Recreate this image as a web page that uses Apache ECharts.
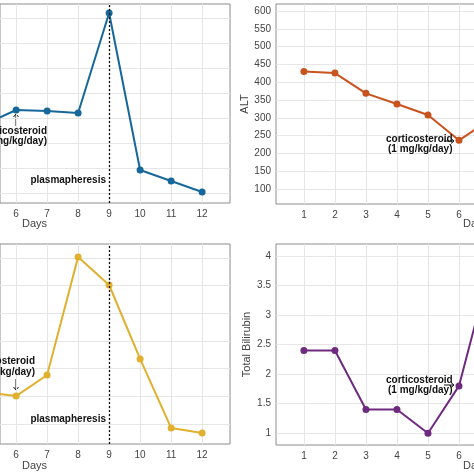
<!DOCTYPE html>
<html>
<head>
<meta charset="utf-8">
<script src="https://cdn.jsdelivr.net/npm/echarts@6/dist/echarts.min.js"></script>
<style>
  html, body { margin: 0; padding: 0; background: #fff; }
  #chart { width: 474px; height: 474px; }
</style>
</head>
<body>
<div id="chart"></div>
<script>
const leftDays = [5, 6, 7, 8, 9, 10, 11, 12];
const rightDays = [1, 2, 3, 4, 5, 6, 7];

// values (left panels: y axis labels are cut off, so unit = one gridline)
const topLeftValues = [2.76, 3.32, 3.28, 3.2, 7.2, 0.92, 0.48, 0.04];
const bottomLeftValues = [1.16, 1.01, 1.77, 6.03, 5.02, 2.35, -0.14, -0.32];
const altValues = [430, 426, 369, 339, 308, 237, 295];
const bilirubinValues = [2.4, 2.4, 1.4, 1.4, 1.0, 1.8, 3.8];

const leftDayTicks = [6, 7, 8, 9, 10, 11, 12];
const rightDayTicks = [1, 2, 3, 4, 5, 6, 7];
const topLeftTicks = [0, 1, 2, 3, 4, 5, 6, 7];
const bottomLeftTicks = [0, 1, 2, 3, 4, 5, 6];
const altTicks = [100, 150, 200, 250, 300, 350, 400, 450, 500, 550, 600];
const bilirubinTicks = [1, 1.5, 2, 2.5, 3, 3.5, 4];

const colors = {
  blue: '#16679a',
  orange: '#c9531f',
  yellow: '#e0b02e',
  purple: '#6e2a7e',
  grid: '#e6e6e6',
  border: '#8c8c8c',
  label: '#444'
};

const font = 'Liberation Sans, Arial, sans-serif';

const chart = echarts.init(document.getElementById('chart'));

const makeGrid = (left, top, width, height) => ({
  left, top, width, height,
  outerBoundsMode: 'none', containLabel: false,
  show: true, borderColor: colors.border, borderWidth: 1
});

const makeX = (gridIndex, min, max, ticks) => ({
  type: 'value', gridIndex, min, max,
  axisLine: { show: false },
  axisTick: { show: false, customValues: ticks },
  axisLabel: { customValues: ticks, color: colors.label, fontSize: 10, fontFamily: font, margin: 6 },
  splitLine: { show: true, lineStyle: { color: colors.grid } }
});

const makeY = (gridIndex, min, max, ticks, name, showLabels) => ({
  type: 'value', gridIndex, min, max,
  name: name || '',
  nameLocation: 'middle',
  nameGap: 24,
  nameTextStyle: { color: colors.label, fontSize: 11, fontFamily: font },
  axisLine: { show: false },
  axisTick: { show: false, customValues: ticks },
  axisLabel: { show: showLabels, customValues: ticks, color: colors.label, fontSize: 10, fontFamily: font, margin: 5 },
  splitLine: { show: true, lineStyle: { color: colors.grid } }
});

const plasma = {
  silent: true, symbol: 'none', label: { show: false },
  lineStyle: { color: '#111', type: [2, 2], width: 1.3 },
  data: [{ xAxis: 9 }]
};

const makeSeries = (idx, days, values, color, withLine) => ({
  type: 'line', xAxisIndex: idx, yAxisIndex: idx,
  data: days.map((d, i) => [d, values[i]]),
  clip: true,
  symbol: 'circle', symbolSize: 7,
  lineStyle: { color, width: 2 },
  itemStyle: { color },
  markLine: withLine ? plasma : undefined
});

const txt = (x, y, text, align) => ({
  type: 'text', x, y, z: 100,
  style: { text, fill: '#111', font: `bold 10px ${font}`, align: align || 'left', verticalAlign: 'middle' }
});

const plainTxt = (x, y, text) => ({
  type: 'text', x, y,
  style: { text, fill: colors.label, font: `11px ${font}`, align: 'left', verticalAlign: 'middle' }
});

const arrow = (x1, y1, x2, y2) => {
  const dx = x2 - x1, dy = y2 - y1, len = Math.hypot(dx, dy);
  const ux = dx / len, uy = dy / len;
  return [
    { type: 'line', shape: { x1, y1, x2, y2 }, style: { stroke: '#111', lineWidth: 1 } },
    { type: 'polyline', shape: { points: [[x2 - ux * 3 - uy * 2.5, y2 - uy * 3 + ux * 2.5], [x2, y2], [x2 - ux * 3 + uy * 2.5, y2 - uy * 3 - ux * 2.5]] }, style: { stroke: '#111', lineWidth: 1, fill: null } }
  ];
};

chart.setOption({
  animation: false,
  grid: [
    makeGrid(0, 4, 230, 199),
    makeGrid(276, 4, 214, 200),
    makeGrid(0, 244, 230, 200),
    makeGrid(276, 244, 214, 201)
  ],
  xAxis: [
    makeX(0, 5.48, 12.9, leftDayTicks),
    makeX(1, 0.1, 7, rightDayTicks),
    makeX(2, 5.48, 12.9, leftDayTicks),
    makeX(3, 0.1, 7, rightDayTicks)
  ],
  yAxis: [
    makeY(0, -0.4, 7.56, topLeftTicks, '', false),
    makeY(1, 58, 620, altTicks, 'ALT', true),
    makeY(2, -0.72, 6.5, bottomLeftTicks, '', false),
    makeY(3, 0.8, 4.2, bilirubinTicks, 'Total Bilirubin', true)
  ],
  series: [
    makeSeries(0, leftDays, topLeftValues, colors.blue, true),
    makeSeries(1, rightDays, altValues, colors.orange, false),
    makeSeries(2, leftDays, bottomLeftValues, colors.yellow, true),
    makeSeries(3, rightDays, bilirubinValues, colors.purple, false)
  ],
  graphic: [
    plainTxt(22, 224, 'Days'),
    plainTxt(463, 224, 'Days'),
    plainTxt(22, 466, 'Days'),
    plainTxt(463, 466, 'Days'),
    txt(106, 180, 'plasmapheresis', 'right'),
    txt(106, 419, 'plasmapheresis', 'right'),
    txt(47, 131, 'corticosteroid', 'right'),
    txt(47, 141, '(1 mg/kg/day)', 'right'),
    ...arrow(16, 126, 16, 114),
    txt(35, 361, 'corticosteroid', 'right'),
    txt(35, 372, '(1 mg/kg/day)', 'right'),
    ...arrow(16, 379, 16, 390),
    txt(386, 139, 'corticosteroid'),
    txt(388, 149, '(1 mg/kg/day)'),
    ...arrow(444, 141, 454, 141),
    txt(386, 380, 'corticosteroid'),
    txt(388, 390, '(1 mg/kg/day)'),
    ...arrow(444, 385, 454, 385)
  ]
});
</script>
</body>
</html>
